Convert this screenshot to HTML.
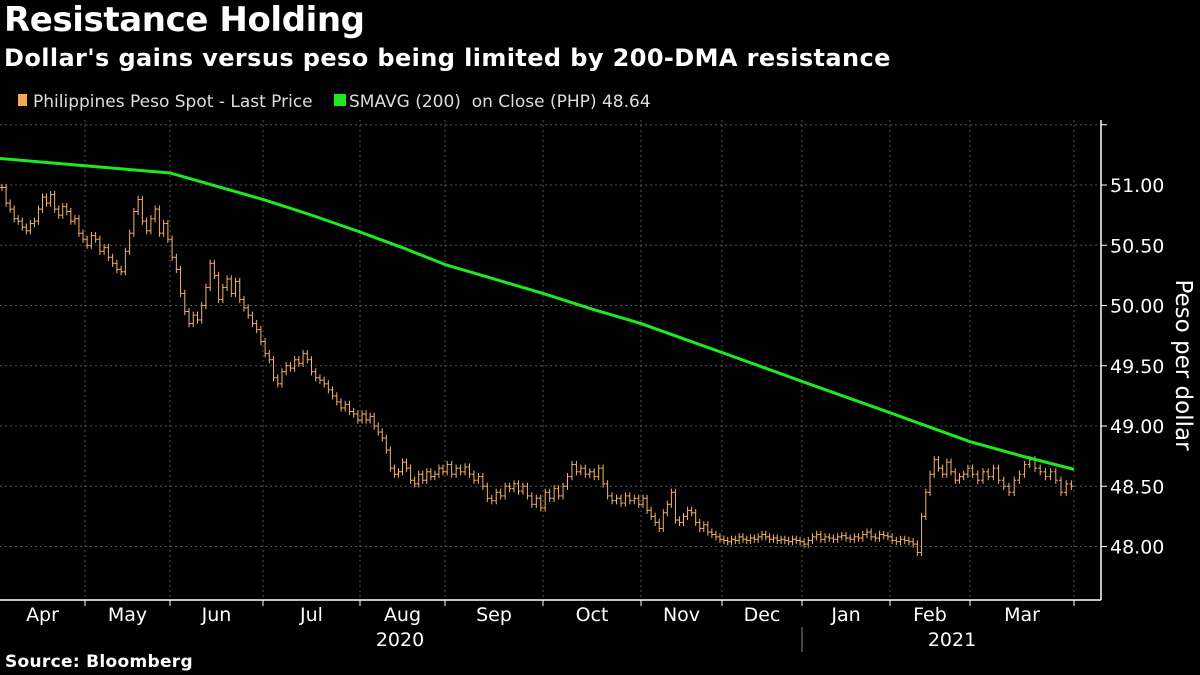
<!DOCTYPE html>
<html><head><meta charset="utf-8"><style>
html,body{margin:0;padding:0;background:#000;width:1200px;height:675px;overflow:hidden;font-family:"Liberation Sans","DejaVu Sans",sans-serif;color:#fff}
.t{position:absolute;left:4px;top:0px;font-size:34px;font-weight:bold;font-family:"DejaVu Sans",sans-serif;letter-spacing:-0.4px}
.s{position:absolute;left:4px;top:44px;font-size:24px;font-weight:bold;font-family:"DejaVu Sans",sans-serif;letter-spacing:0.4px}
.src{position:absolute;left:5px;top:652px;font-size:17px;font-weight:bold;font-family:"DejaVu Sans",sans-serif;letter-spacing:0.3px}
svg{position:absolute;left:0;top:0}
</style></head><body>
<div class="t">Resistance Holding</div>
<div class="s">Dollar's gains versus peso being limited by 200-DMA resistance</div>
<div class="src">Source: Bloomberg</div>
<svg id="c" width="1200" height="675">
<g font-family="DejaVu Sans, sans-serif" font-size="17" fill="#ddd">
<rect x="18" y="94" width="9" height="12" fill="#f5a852"/>
<text x="33" y="107">Philippines Peso Spot - Last Price</text>
<rect x="334" y="94" width="12" height="12" fill="#1ee81e"/>
<text x="349" y="107" xml:space="preserve">SMAVG (200)  on Close (PHP) 48.64</text>
</g>
<g id="grid"></g><g id="axes"></g><g id="marks"></g>
<text transform="translate(1176,365) rotate(90)" text-anchor="middle" font-size="23" fill="#fff" font-family="DejaVu Sans, sans-serif">Peso per dollar</text>
</svg>
<script>
const months=['Apr','May','Jun','Jul','Aug','Sep','Oct','Nov','Dec','Jan','Feb','Mar'];
const yTicks=[48.0,48.5,49.0,49.5,50.0,50.5,51.0];
const closes=[
[50.98,50.85,50.80,50.72,50.70,50.65,50.62,50.68,50.70,50.80,50.90,50.85,50.92,50.80,50.75,50.82,50.78,50.70,50.72,50.60,50.55],
[50.50,50.58,50.55,50.45,50.48,50.40,50.35,50.30,50.28,50.45,50.60,50.78,50.88,50.70,50.62,50.72,50.80,50.60,50.68,50.55],
[50.40,50.30,50.10,49.95,49.85,49.92,49.88,50.00,50.15,50.35,50.25,50.05,50.15,50.22,50.10,50.20,50.05,49.98,49.92,49.85,49.80,49.70],
[49.60,49.55,49.40,49.35,49.45,49.50,49.48,49.55,49.52,49.60,49.55,49.45,49.40,49.38,49.35,49.30,49.25,49.20,49.15,49.18,49.12,49.10,49.05],
[49.10,49.05,49.08,49.00,48.95,48.90,48.80,48.65,48.60,48.62,48.70,48.65,48.55,48.52,48.60,48.55,48.62,48.58,48.60,48.65,48.62],
[48.68,48.60,48.65,48.62,48.66,48.60,48.55,48.58,48.50,48.40,48.38,48.45,48.42,48.50,48.48,48.52,48.46,48.50,48.42,48.35,48.40,48.32],
[48.45,48.40,48.48,48.42,48.50,48.58,48.68,48.62,48.65,48.60,48.62,48.58,48.65,48.52,48.42,48.38,48.40,48.36,48.42,48.38,48.40,48.35],
[48.40,48.30,48.25,48.20,48.15,48.28,48.35,48.45,48.22,48.20,48.25,48.30,48.28,48.20,48.15,48.18,48.12,48.10,48.08,48.06],
[48.05,48.04,48.06,48.05,48.08,48.06,48.05,48.07,48.06,48.08,48.10,48.08,48.06,48.07,48.05,48.06,48.05,48.04,48.06,48.05,48.04],
[48.02,48.05,48.08,48.10,48.06,48.08,48.07,48.06,48.08,48.09,48.07,48.06,48.08,48.07,48.10,48.12,48.08,48.07,48.10,48.09,48.08],
[48.05,48.04,48.06,48.05,48.04,48.02,47.95,48.25,48.45,48.60,48.72,48.65,48.60,48.70,48.62,48.55,48.58,48.60,48.65],
[48.60,48.55,48.62,48.58,48.65,48.55,48.50,48.45,48.55,48.60,48.68,48.72,48.65,48.62,48.58,48.62,48.55,48.45,48.52,48.50]];
const smaValues=[51.22,51.19,51.16,51.13,51.10,50.99,50.88,50.75,50.61,50.48,50.34,50.22,50.10,49.97,49.85,49.73,49.61,49.49,49.37,49.24,49.11,48.99,48.87,48.75,48.64];
const bounds=[0,85,170,263,360,445,543,641,722,802,890,970,1074];
const ns='http://www.w3.org/2000/svg';
function y(v){return 185+(51-v)*120.5;}
function mk(t,a,p){const e=document.createElementNS(ns,t);for(const k in a)e.setAttribute(k,a[k]);p.appendChild(e);return e;}
const grid=document.getElementById('grid'),axes=document.getElementById('axes'),marks=document.getElementById('marks');
[51.5,...yTicks].forEach(v=>{const l=mk('line',{x1:0,x2:1101,y1:y(v),y2:y(v),stroke:'#555','stroke-dasharray':'2,3'},grid);

});
yTicks.forEach(v=>{const t=mk('text',{x:1110,y:y(v)+7,fill:'#fff','font-size':19,'font-family':'DejaVu Sans, sans-serif'},axes);t.textContent=v.toFixed(2);


mk('line',{x1:1101,x2:1107,y1:y(v),y2:y(v),stroke:'#fff'},axes);});
mk('line',{x1:1101,x2:1107,y1:y(51.5),y2:y(51.5),stroke:'#fff'},axes);
mk('line',{x1:1101,x2:1101,y1:120,y2:600,stroke:'#fff','stroke-width':1.5},axes);
mk('line',{x1:0,x2:1101,y1:600,y2:600,stroke:'#fff','stroke-width':1.5},axes);
for(let i=1;i<bounds.length;i++){const x=bounds[i];
const g=mk('line',{x1:x,x2:x,y1:120,y2:600,stroke:'#555','stroke-dasharray':'2,3'},grid);


mk('line',{x1:x,x2:x,y1:600,y2:606,stroke:'#fff'},axes);}
months.forEach((m,i)=>{const t=mk('text',{x:(bounds[i]+bounds[i+1])/2,y:621,fill:'#fff','font-size':19,'text-anchor':'middle','font-family':'DejaVu Sans, sans-serif'},axes);t.textContent=m;

});
[['2020',400],['2021',952]].forEach(([s,x])=>{const t=mk('text',{x:x,y:646,fill:'#fff','font-size':19,'text-anchor':'middle','font-family':'DejaVu Sans, sans-serif'},axes);t.textContent=s;

});
mk('line',{x1:802,x2:802,y1:627,y2:652,stroke:'#888'},axes);
let prev=closes[0][0];
closes.forEach((arr,mi)=>{const x0=bounds[mi],x1=bounds[mi+1],step=(x1-x0)/arr.length;
arr.forEach((c,j)=>{const x=x0+step*(j+0.5);const o=prev;const hi=Math.max(o,c)+0.03,lo=Math.min(o,c)-0.03;
const g=mk('g',{stroke:'#f5b46a','stroke-width':1},marks);


mk('line',{x1:x,x2:x,y1:y(hi),y2:y(lo)},g);
mk('line',{x1:x-2,x2:x,y1:y(o),y2:y(o)},g);
mk('line',{x1:x,x2:x+2,y1:y(c),y2:y(c)},g);
prev=c;});});
const pts=smaValues.map((v,i)=>{const m=Math.floor(i/2),half=i%2;const x=m>=12?bounds[12]:bounds[m]+(half?(bounds[m+1]-bounds[m])/2:0);return x+','+y(v);}).join(' ');
const sl=mk('polyline',{points:pts,fill:'none',stroke:'#1ee81e','stroke-width':3,'stroke-linejoin':'round'},marks);


</script>
</body></html>
